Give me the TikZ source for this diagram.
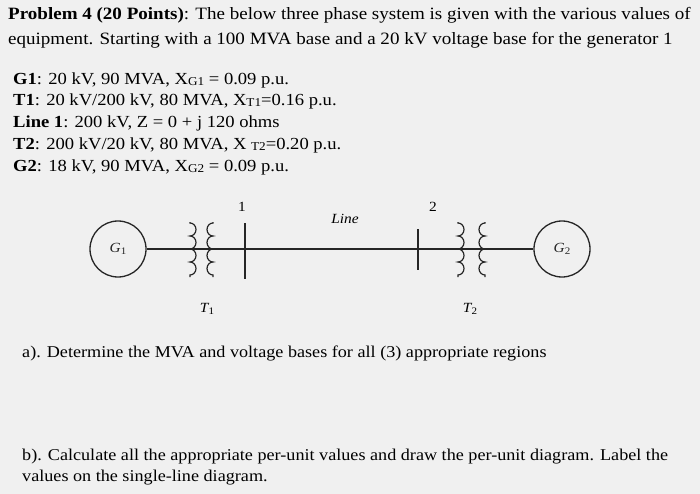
\documentclass[tikz,border=0pt]{standalone}
\usepackage{fontspec}
\setmainfont{Liberation Serif}[FakeStretch=1.1]
\newcommand{\xsb}[1]{\raisebox{-0.5pt}{\fontsize{12}{12}\selectfont #1}}
\newcommand{\isb}[1]{\raisebox{-2.5pt}{\fontsize{10}{10}\selectfont\upshape #1}}
\tikzset{txt/.style={anchor=base west,inner sep=0pt,font=\fontsize{17.3}{18}\selectfont},
 ptxt/.style={txt,font=\fontsize{16.9}{18}\selectfont},
 qtxt/.style={txt,font=\fontsize{16.5}{18}\selectfont},
 lab/.style={inner sep=0pt,font=\fontsize{14}{14}\selectfont},
 wire/.style={line width=1.2pt,black!85},
 gen/.style={circle,draw,line width=1.3pt,black!85,minimum size=56pt,inner sep=0pt,font=\fontsize{14}{14}\selectfont\itshape}}
\begin{document}
\begin{tikzpicture}[x=1pt,y=-1pt]
\fill[gray!12] (0,0) rectangle (700,494);
\useasboundingbox (0,0) rectangle (700,494);
\node[txt] (h1) at (8,20) {\textbf{Problem 4 (20 Points)}: The below three phase system is given with the various values of};
\node[txt] (h2) at (8,45) {equipment. Starting with a 100 MVA base and a 20 kV voltage base for the generator 1};
\node[ptxt] (p1) at (13,85) {\textbf{G1}: 20 kV, 90 MVA, X\xsb{G1} = 0.09 p.u.};
\node[ptxt] (p2) at (13,106) {\textbf{T1}: 20 kV/200 kV, 80 MVA, X\xsb{T1}=0.16 p.u.};
\node[ptxt] (p3) at (13,128) {\textbf{Line 1}: 200 kV, Z = 0 + j 120 ohms};
\node[ptxt] (p4) at (13,150) {\textbf{T2}: 200 kV/20 kV, 80 MVA, X \xsb{T2}=0.20 p.u.};
\node[ptxt] (p5) at (13,172) {\textbf{G2}: 18 kV, 90 MVA, X\xsb{G2} = 0.09 p.u.};
\node[qtxt] (qa) at (22,357) {a). Determine the MVA and voltage bases for all (3) appropriate regions};
\node[qtxt] (qb1) at (22,460) {b). Calculate all the appropriate per-unit values and draw the per-unit diagram. Label the};
\node[qtxt] (qb2) at (22,481) {values on the single-line diagram.};
% diagram
\node[gen] (g1) at (118,249) {G\isb{1}};
\node[gen] (g2) at (562,249) {G\isb{2}};
\coordinate (b1t) at (245,223); \coordinate (b1b) at (245,279);
\coordinate (b2t) at (418,229); \coordinate (b2b) at (418,270);
\draw[wire] (g1.east) -- (g2.west);
\draw[wire] (b1t) -- (b1b);
\draw[wire] (b2t) -- (b2b);
\foreach \x/\d in {190/1,213/-1,458/1,485/-1}{
  \draw[wire] (\x,222) -- (\x,223)
   \foreach \k in {0,1,2,3}{ arc[start angle=-90,end angle=90,x radius=\d*6,y radius=6.5] }
   -- (\x,277);
}
\node[lab] (n1) at (242,207) {1};
\node[lab] (n2) at (433,207) {2};
\node[lab,font=\fontsize{14}{14}\selectfont\itshape] (ln) at (345,219) {Line};
\node[lab,font=\fontsize{14}{14}\selectfont\itshape] (t1) at (207,309) {T\isb{1}};
\node[lab,font=\fontsize{14}{14}\selectfont\itshape] (t2) at (470,309) {T\isb{2}};
\end{tikzpicture}
\end{document}
